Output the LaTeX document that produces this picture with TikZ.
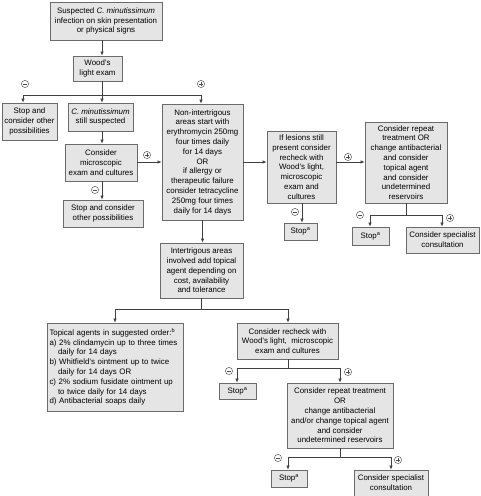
\documentclass[tikz,border=0pt]{standalone}
\usepackage{fontspec}
\setmainfont{Liberation Sans}
\usetikzlibrary{arrows.meta}
\begin{document}
\begin{tikzpicture}[x=1pt,y=-1pt,
  box/.style={draw=black!58, fill=black!10, line width=0.9pt, align=center, inner sep=0pt,
    font=\fontsize{7.9}{9.8}\selectfont},
  ln/.style={draw=black!75, line width=0.7pt},
  arr/.style={ln, -{Latex[length=4pt,width=3.6pt]}},
  sgn/.style={draw=black!70, line width=0.45pt}]
\useasboundingbox (0,0) rectangle (480,496);
\fill[white] (0,0) rectangle (480,496);
% sign markers
\newcommand{\minussign}[1]{\draw[sgn] #1 circle (3.6pt); \draw[sgn] #1 ++(-2,0) -- ++(4,0);}
\newcommand{\plussign}[1]{\draw[sgn] #1 circle (3.6pt); \draw[sgn] #1 ++(-2,0) -- ++(4,0); \draw[sgn] #1 ++(0,-2) -- ++(0,4);}

% nodes
\node[box, minimum width=112pt, minimum height=38pt] (susp) at (106,21) {Suspected \textit{C. minutissimum}\\infection on skin presentation\\or physical signs};
\node[box, minimum width=49pt, minimum height=25pt] (wood) at (97.5,68.5) {Wood's\\light exam};
\node[box, minimum width=55pt, minimum height=37pt] (stop1) at (29.5,121.5) {Stop and\\consider other\\possibilities};
\node[box, minimum width=65pt, minimum height=28pt] (cmin) at (100.5,117) {\textit{C. minutissimum}\\still suspected};
\node[box, minimum width=72pt, minimum height=37pt] (micro) at (101,162.5) {Consider\\microscopic\\exam and cultures};
\node[box, minimum width=80pt, minimum height=27pt] (stop2) at (103,213.5) {Stop and consider\\other possibilities};
\node[box, minimum width=81pt, minimum height=116pt] (nonint) at (202.5,162) {Non-intertrigous\\areas start with\\erythromycin 250mg\\four times daily\\for 14 days\\OR\\if allergy or\\therapeutic failure\\consider tetracycline\\250mg four times\\daily for 14 days};
\node[box, minimum width=69pt, minimum height=72pt] (lesions) at (301.5,167) {If lesions still\\present consider\\recheck with\\Wood's light,\\microscopic\\exam and\\cultures};
\node[box, minimum width=82pt, minimum height=81pt] (rep1) at (406,162.5) {Consider repeat\\treatment OR\\change antibacterial\\and consider\\topical agent\\and consider\\undetermined\\reservoirs};
\node[box, minimum width=33pt, minimum height=17pt] (stopa1) at (300.5,231.5) {Stop\textsuperscript{a}};
\node[box, minimum width=37pt, minimum height=18pt] (stopa2) at (370.5,236) {Stop\textsuperscript{a}};
\node[box, minimum width=73pt, minimum height=26pt] (spec1) at (442.5,240) {Consider specialist\\consultation};
\node[box, minimum width=83pt, minimum height=55pt] (inter) at (201.5,270.5) {Intertrigous areas\\involved add topical\\agent depending on\\cost, availability\\and tolerance};
\node[box, minimum width=136pt, minimum height=88pt, text width=131pt, align=left] (topical) at (115,367) {Topical agents in suggested order:\textsuperscript{b}\\a) 2\% clindamycin up to three times\\\hspace*{8.5pt}daily for 14 days\\b) Whitfield's ointment up to twice\\\hspace*{8.5pt}daily for 14 days OR\\c) 2\% sodium fusidate ointment up\\\hspace*{8.5pt}to twice daily for 14 days\\d) Antibacterial soaps daily};
\node[box, minimum width=101pt, minimum height=36pt] (recheck) at (287.5,341) {Consider recheck with\\Wood's light,\ \ microscopic\\exam and cultures};
\node[box, minimum width=37pt, minimum height=16pt] (stopa3) at (237.5,391) {Stop\textsuperscript{a}};
\node[box, minimum width=106pt, minimum height=65pt] (rep2) at (340,415.5) {Consider repeat treatment\\OR\\change antibacterial\\and/or change topical agent\\and consider\\undetermined reservoirs};
\node[box, minimum width=36pt, minimum height=17pt] (stopa4) at (289,478.5) {Stop\textsuperscript{a}};
\node[box, minimum width=74pt, minimum height=26pt] (spec2) at (391,483) {Consider specialist\\consultation};

% branch coordinates
\coordinate (t1) at (102,0);
\coordinate (b1) at (102,95);
\coordinate (b1l) at (23,95);
\coordinate (b1r) at (201,95);
\coordinate (t2) at (302,0);
\coordinate (b2) at (406,215);
\coordinate (b2l) at (370,215);
\coordinate (b2r) at (442,215);
\coordinate (b3) at (201,309);
\coordinate (b3l) at (115,309);
\coordinate (b3r) at (288,309);
\coordinate (b4) at (288,368);
\coordinate (b4l) at (237,368);
\coordinate (b4r) at (340,368);
\coordinate (b5) at (340,457);
\coordinate (b5l) at (288,457);
\coordinate (b5r) at (391,457);
\coordinate (ny) at (0,162);

% connectors
\draw[arr] (susp.south -| t1) -- (wood.north -| t1);
\draw[ln] (wood.south -| t1) -- (b1);
\draw[ln] (b1l) -- (b1r);
\draw[arr] (b1l) -- (stop1.north -| b1l);
\draw[arr] (b1) -- (cmin.north -| b1);
\draw[arr] (b1r) -- (nonint.north -| b1r);
\draw[arr] (cmin.south -| t1) -- (micro.north -| t1);
\draw[arr] (micro.east |- ny) -- (nonint.west |- ny);
\draw[arr] (micro.south -| t1) -- (stop2.north -| t1);
\draw[arr] (nonint.east |- ny) -- (lesions.west |- ny);
\draw[arr] (lesions.east |- ny) -- (rep1.west |- ny);
\draw[arr] (lesions.south -| t2) -- (stopa1.north -| t2);
\draw[ln] (rep1.south) -- (b2);
\draw[ln] (b2l) -- (b2r);
\draw[arr] (b2l) -- (stopa2.north -| b2l);
\draw[arr] (b2r) -- (spec1.north -| b2r);
\draw[arr] (nonint.south) -- (inter.north -| nonint.south);
\draw[ln] (inter.south -| b3) -- (b3);
\draw[ln] (b3l) -- (b3r);
\draw[arr] (b3l) -- (topical.north -| b3l);
\draw[arr] (b3r) -- (recheck.north -| b3r);
\draw[ln] (recheck.south -| b4) -- (b4);
\draw[ln] (b4l) -- (b4r);
\draw[arr] (b4l) -- (stopa3.north -| b4l);
\draw[arr] (b4r) -- (rep2.north -| b4r);
\draw[ln] (rep2.south -| b5) -- (b5);
\draw[ln] (b5l) -- (b5r);
\draw[arr] (b5l) -- (stopa4.north -| b5l);
\draw[arr] (b5r) -- (spec2.north -| b5r);

% signs
\minussign{(25,84)}
\plussign{(201,84)}
\plussign{(147,155)}
\minussign{(95,190)}
\plussign{(348,157)}
\minussign{(295,212)}
\minussign{(360,215)}
\plussign{(450,218)}
\minussign{(229,371)}
\plussign{(348,372)}
\minussign{(278,458)}
\plussign{(398,460)}
\end{tikzpicture}
\end{document}
